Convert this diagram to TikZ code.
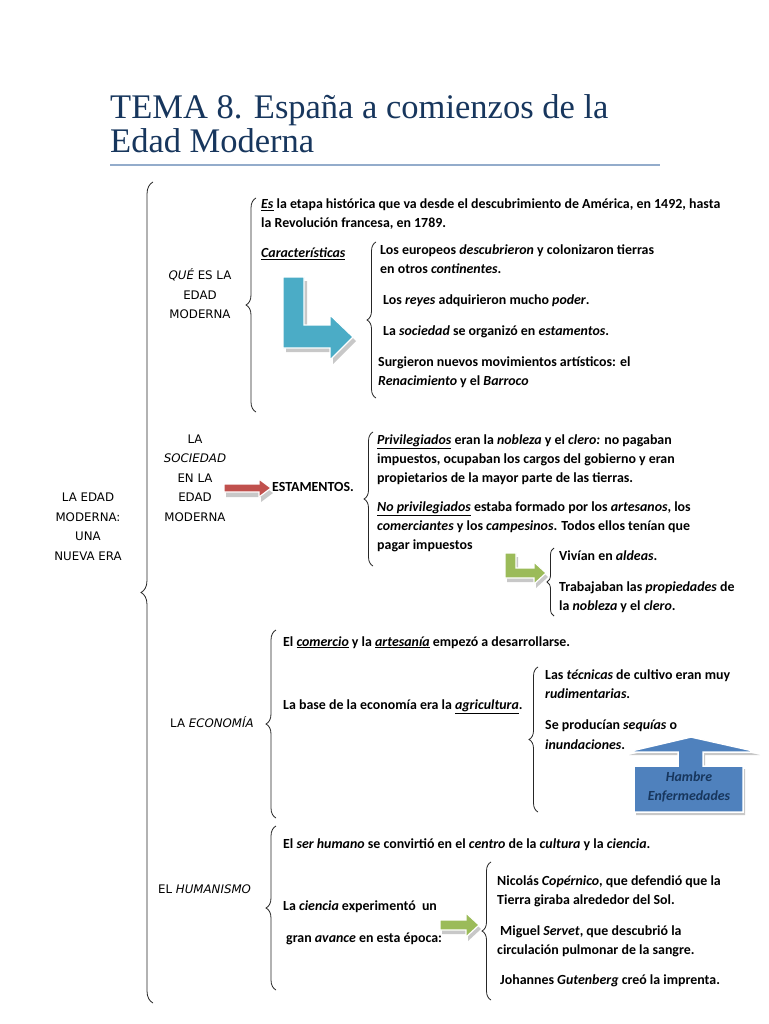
\documentclass[tikz,border=0pt]{standalone}
\usepackage{fontspec}
\setmainfont{Carlito}
\newfontfamily\titlefont{Liberation Serif}
\newfontfamily\lblfont{DejaVu Sans}
\usetikzlibrary{decorations.pathreplacing}
\definecolor{titleblue}{HTML}{17365D}
\definecolor{rulecol}{HTML}{93ACCB}
\definecolor{teal}{HTML}{4BACC6}
\definecolor{redarr}{HTML}{C0504D}
\definecolor{greenarr}{HTML}{9BBB59}
\definecolor{boxblue}{HTML}{4F81BD}
\definecolor{shad}{HTML}{C8C8C8}
\tikzset{
  txt/.style={anchor=base west, inner sep=0pt, font=\fontsize{13.9}{15}\selectfont\bfseries},
  lbl/.style={align=center, inner sep=0pt, font=\lblfont\fontsize{11.8}{19.5}\selectfont},
  lbltxt/.style={anchor=base west, inner sep=0pt, font=\lblfont\fontsize{11.8}{14}\selectfont},
  brc/.style={decorate, line width=0.8pt, draw=black!85},
  arrshadow/.style={fill=shad, draw=none},
  arrmain/.style={draw=white, line width=1.2pt},
}
\begin{document}
\begin{tikzpicture}[x=1pt,y=-1pt]
\useasboundingbox (0,0) rectangle (768,1024);
\fill[white] (0,0) rectangle (768,1024);

% Title
\node[anchor=base west, inner sep=0pt, text=titleblue, font=\titlefont\fontsize{34.5}{34}\selectfont] (title1) at (110,119) {TEMA 8. España a comienzos de la};
\node[anchor=base west, inner sep=0pt, text=titleblue, font=\titlefont\fontsize{34.5}{34}\selectfont] (title2) at (110,153) {Edad Moderna};
\coordinate (r1) at (110,165);
\coordinate (r2) at (660,165);
\draw[rulecol, line width=1.6pt] (r1) -- (r2);

% Left labels
\node[lbl] (L0) at (88,527) {LA EDAD\\MODERNA:\\UNA\\NUEVA ERA};
\node[lbl] (L1) at (200,294) {\textit{QUÉ} ES LA\\EDAD\\MODERNA};
\node[lbl] (L2) at (195,478) {LA\\\textit{SOCIEDAD}\\EN LA\\EDAD\\MODERNA};
\node[lbltxt] (L3) at (170,727) {LA \textit{ECONOMÍA}};
\node[lbltxt] (L4) at (158,893) {EL \textit{HUMANISMO}};

% Braces
\coordinate (b0a) at (153,1003); \coordinate (b0b) at (153,182);
\draw[brc, decoration={brace, amplitude=12pt}] (b0a) -- (b0b);
\coordinate (b1a) at (256,412); \coordinate (b1b) at (256,198);
\draw[brc, decoration={brace, amplitude=10pt}] (b1a) -- (b1b);
\coordinate (b2a) at (376,398); \coordinate (b2b) at (376,242);
\draw[brc, decoration={brace, amplitude=9pt}] (b2a) -- (b2b);
\coordinate (b3a) at (373,566); \coordinate (b3b) at (373,432);
\draw[brc, decoration={brace, amplitude=9pt}] (b3a) -- (b3b);
\coordinate (b4a) at (554,616); \coordinate (b4b) at (554,548);
\draw[brc, decoration={brace, amplitude=7pt}] (b4a) -- (b4b);
\coordinate (b5a) at (276,818); \coordinate (b5b) at (276,630);
\draw[brc, decoration={brace, amplitude=10pt}] (b5a) -- (b5b);
\coordinate (b6a) at (538,812); \coordinate (b6b) at (538,667);
\draw[brc, decoration={brace, amplitude=9pt}] (b6a) -- (b6b);
\coordinate (b7a) at (276,990); \coordinate (b7b) at (276,826);
\draw[brc, decoration={brace, amplitude=10pt}] (b7a) -- (b7b);
\coordinate (b8a) at (491,1000); \coordinate (b8b) at (491,862);
\draw[brc, decoration={brace, amplitude=9pt}] (b8a) -- (b8b);

% Section 1 text
\node[txt] (t1a) at (261,209) {\underline{\textit{Es}} la etapa histórica que va desde el descubrimiento de América, en 1492, hasta};
\node[txt] (t1b) at (261,228) {la Revolución francesa, en 1789.};
\node[txt] (car) at (261,258) {\underline{\textit{Características}}};
\node[txt] (c1a) at (380,254) {Los europeos \textit{descubrieron} y colonizaron tierras};
\node[txt] (c1b) at (380,273) {en otros \textit{continentes}.};
\node[txt] (c2) at (383,304) {Los \textit{reyes} adquirieron mucho \textit{poder}.};
\node[txt] (c3) at (383,335) {La \textit{sociedad} se organizó en \textit{estamentos}.};
\node[txt] (c4a) at (378,366) {Surgieron nuevos movimientos artísticos: el};
\node[txt] (c4b) at (378,385) {\textit{Renacimiento} y el \textit{Barroco}};

% Big teal L arrow
\begin{scope}[shift={(3,4)}]
\fill[arrshadow] (283,277) -- (304,277) -- (304,325) -- (330,325) -- (330,315) -- (353,337) -- (330,360) -- (330,348) -- (283,348) -- cycle;
\end{scope}
\filldraw[fill=teal, arrmain] (283,277) -- (304,277) -- (304,325) -- (330,325) -- (330,315) -- (353,337) -- (330,360) -- (330,348) -- (283,348) -- cycle;

% Section 2
\begin{scope}[shift={(2,5)}]
\fill[arrshadow] (224,484) -- (259,484) -- (259,479) -- (271,488) -- (259,497) -- (259,492) -- (224,492) -- cycle;
\end{scope}
\filldraw[fill=redarr, arrmain] (224,484) -- (259,484) -- (259,479) -- (271,488) -- (259,497) -- (259,492) -- (224,492) -- cycle;
\node[txt] (est) at (272,491) {ESTAMENTOS.};

\node[txt] (p1) at (377,444) {\underline{\textit{Privilegiados}} eran la \textit{nobleza} y el \textit{clero:} no pagaban};
\node[txt] (p2) at (377,463) {impuestos, ocupaban los cargos del gobierno y eran};
\node[txt] (p3) at (377,482) {propietarios de la mayor parte de las tierras.};
\node[txt] (n1) at (377,511) {\underline{\textit{No privilegiados}} estaba formado por los \textit{artesanos}, los};
\node[txt] (n2) at (377,530) {\textit{comerciantes} y los \textit{campesinos}. Todos ellos tenían que};
\node[txt] (n3) at (377,549) {pagar impuestos};

\begin{scope}[shift={(2,4)}]
\fill[arrshadow] (505,553) -- (516,553) -- (516,568) -- (534,568) -- (534,562) -- (546,573) -- (534,584) -- (534,578) -- (505,578) -- cycle;
\end{scope}
\filldraw[fill=greenarr, arrmain] (505,553) -- (516,553) -- (516,568) -- (534,568) -- (534,562) -- (546,573) -- (534,584) -- (534,578) -- (505,578) -- cycle;

\node[txt] (v1) at (559,560) {Vivían en \textit{aldeas}.};
\node[txt] (v2) at (559,591) {Trabajaban las \textit{propiedades} de};
\node[txt] (v3) at (559,610) {la \textit{nobleza} y el \textit{clero}.};

% Section 3
\node[txt] (e1) at (283,646) {El \underline{\textit{comercio}} y la \underline{\textit{artesanía}} empezó a desarrollarse.};
\node[txt] (e2) at (283,709) {La base de la economía era la \underline{\textit{agricultura}}.};
\node[txt] (a1) at (545,679) {Las \textit{técnicas} de cultivo eran muy};
\node[txt] (a2) at (545,698) {\textit{rudimentarias}.};
\node[txt] (a3) at (545,729) {Se producían \textit{sequías} o};
\node[txt] (a4) at (545,749) {\textit{inundaciones}.};

\begin{scope}[shift={(2,3)}]
\fill[arrshadow] (634,766) -- (678,766) -- (678,752) -- (627,752) -- (691,737) -- (758,752) -- (703,752) -- (703,766) -- (743,766) -- (743,812) -- (634,812) -- cycle;
\end{scope}
\filldraw[fill=boxblue, draw=white, line width=1.5pt] (634,766) -- (678,766) -- (678,752) -- (627,752) -- (691,737) -- (758,752) -- (703,752) -- (703,766) -- (743,766) -- (743,812) -- (634,812) -- cycle;
\node[align=center, inner sep=0pt, text=titleblue, font=\fontsize{13.9}{19}\selectfont\bfseries\itshape] (hb) at (689,787) {Hambre\\Enfermedades};

% Section 4
\node[txt] (h1) at (283,848) {El \textit{ser humano} se convirtió en el \textit{centro} de la \textit{cultura} y la \textit{ciencia}.};
\node[txt] (h2) at (283,910) {La \textit{ciencia} experimentó\ \ un};
\node[txt] (h3) at (286,942) {gran \textit{avance} en esta época:};

\begin{scope}[shift={(2,4)}]
\fill[arrshadow] (440,920) -- (466,920) -- (466,913) -- (479,925) -- (466,937) -- (466,930) -- (440,930) -- cycle;
\end{scope}
\filldraw[fill=greenarr, arrmain] (440,920) -- (466,920) -- (466,913) -- (479,925) -- (466,937) -- (466,930) -- (440,930) -- cycle;

\node[txt] (s1) at (497,885) {Nicolás \textit{Copérnico}, que defendió que la};
\node[txt] (s2) at (497,904) {Tierra giraba alrededor del Sol.};
\node[txt] (s3) at (500,935) {Miguel \textit{Servet}, que descubrió la};
\node[txt] (s4) at (497,954) {circulación pulmonar de la sangre.};
\node[txt] (s5) at (500,984) {Johannes \textit{Gutenberg} creó la imprenta.};
\end{tikzpicture}
\end{document}
